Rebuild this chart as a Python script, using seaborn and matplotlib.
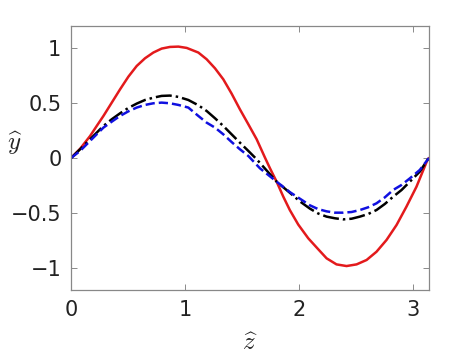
import matplotlib
matplotlib.use("Agg")
import matplotlib.pyplot as plt
import seaborn as sns
import numpy as np

# Red solid series
red_x = [0.0, 0.08, 0.167, 0.225, 0.284, 0.357, 0.43, 0.503, 0.576, 0.649, 0.722, 0.795,
         0.868, 0.942, 1.015, 1.117, 1.19, 1.263, 1.336, 1.409, 1.482, 1.556, 1.629,
         1.702, 1.746, 1.804, 1.863, 1.92, 1.994, 2.082, 2.17, 2.243, 2.33, 2.418, 2.506,
         2.594, 2.681, 2.769, 2.857, 2.944, 3.032, 3.128, 3.1416]
red_y = [0.0, 0.085, 0.2, 0.291, 0.382, 0.503, 0.624, 0.739, 0.836, 0.906, 0.958, 0.994,
         1.009, 1.012, 1.0, 0.958, 0.897, 0.815, 0.715, 0.585, 0.442, 0.306, 0.17,
         0.003, -0.094, -0.215, -0.352, -0.473, -0.605, -0.73, -0.83, -0.912, -0.967, -0.982, -0.967,
         -0.927, -0.852, -0.745, -0.609, -0.442, -0.261, -0.018, 0.0]

# Black dash-dot series
black_x = [0.0, 0.079, 0.181, 0.284, 0.357, 0.43, 0.503, 0.576, 0.649, 0.722, 0.795, 0.868,
           0.942, 1.029, 1.117, 1.19, 1.263, 1.336, 1.409, 1.482, 1.556, 1.629, 1.687,
           1.804, 1.92, 2.009, 2.096, 2.17, 2.243, 2.316, 2.389, 2.462, 2.535, 2.608, 2.681,
           2.754, 2.827, 2.901, 2.974, 3.061, 3.128, 3.1416]
black_y = [0.0, 0.079, 0.185, 0.291, 0.352, 0.406, 0.455, 0.494, 0.527, 0.548, 0.564, 0.567,
           0.555, 0.527, 0.479, 0.427, 0.361, 0.291, 0.215, 0.139, 0.064, -0.012, -0.079,
           -0.215, -0.316, -0.395, -0.46, -0.505, -0.533, -0.548, -0.558, -0.552, -0.533, -0.509, -0.473,
           -0.418, -0.352, -0.291, -0.215, -0.124, -0.018, 0.0]

# Blue dashed series
blue_x = [0.0, 0.079, 0.181, 0.284, 0.357, 0.43, 0.503, 0.576, 0.649, 0.722, 0.795, 0.868,
          0.942, 1.029, 1.117, 1.19, 1.263, 1.336, 1.409, 1.482, 1.556, 1.658, 1.804,
          1.92, 2.038, 2.096, 2.17, 2.243, 2.316, 2.389, 2.462, 2.535, 2.608, 2.681, 2.754,
          2.827, 2.901, 2.974, 3.061, 3.128, 3.1416]
blue_y = [0.0, 0.064, 0.17, 0.276, 0.33, 0.382, 0.424, 0.458, 0.482, 0.497, 0.503, 0.497,
          0.482, 0.458, 0.382, 0.321, 0.276, 0.215, 0.145, 0.079, 0.018, -0.094, -0.215,
          -0.31, -0.39, -0.43, -0.465, -0.485, -0.497, -0.497, -0.491, -0.473, -0.448, -0.412, -0.358,
          -0.291, -0.245, -0.185, -0.109, -0.018, 0.0]

x_ticks = [0, 1, 2, 3]
y_ticks = [-1, -0.5, 0, 0.5, 1]
y_ticklabels = ["\u22121", "\u22120.5", "0", "0.5", "1"]

sns.set_style("ticks", {"xtick.direction": "in", "ytick.direction": "in"})
plt.rcParams["font.family"] = ["DejaVu Sans"]
plt.rcParams["mathtext.fontset"] = "cm"

fig = plt.figure(figsize=(4.74, 3.55), dpi=100)
ax = fig.add_axes([0.15, 0.183, 0.755, 0.744])

sns.lineplot(x=red_x, y=red_y, ax=ax, color="#e31a1c", linewidth=1.8, sort=False)
sns.lineplot(x=black_x, y=black_y, ax=ax, color="black", linewidth=1.8, linestyle="-.", sort=False)
sns.lineplot(x=blue_x, y=blue_y, ax=ax, color="#1010e0", linewidth=1.8, linestyle="--", sort=False)

ax.set_xlim(0, np.pi)
ax.set_ylim(-1.2, 1.2)
ax.set_xticks(x_ticks)
ax.set_xticklabels([str(t) for t in x_ticks])
ax.set_yticks(y_ticks)
ax.set_yticklabels(y_ticklabels)
ax.tick_params(axis="both", which="both", direction="in", top=True, right=True,
               labelsize=15, length=4, width=0.6, color="#777777", labelcolor="#222222", pad=7)
for s in ax.spines.values():
    s.set_color("#888888")
    s.set_linewidth(0.9)

ax.set_xlabel(r"$\widehat{z}$", fontsize=18, labelpad=8)
ax.set_ylabel(r"$\widehat{y}$", fontsize=18, rotation=0, ha="center", va="center")
ax.yaxis.set_label_coords(-0.158, 0.557)

fig.savefig("out.png", dpi=100)
